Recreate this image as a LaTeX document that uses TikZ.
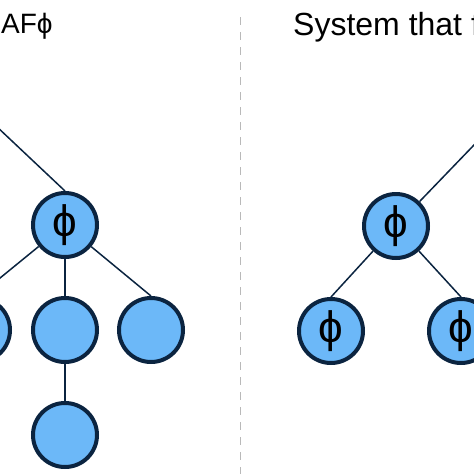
\documentclass[tikz,border=0pt]{standalone}
\usepackage{fontspec}
\setmainfont{Liberation Sans}
\usetikzlibrary{positioning}
\definecolor{nodefill}{HTML}{6CB8F8}
\definecolor{nodeline}{HTML}{0B2440}
\tikzstyle{TreeNode} = [draw=nodeline, fill=nodefill, circle, line width=4pt, minimum size=64pt, inner sep=0pt, font=\fontsize{44}{44}\selectfont]
\tikzstyle{Title} = [anchor=base west, inner sep=0pt, font=\fontsize{28}{28}\selectfont]

\begin{document}
\begin{tikzpicture}[x=1pt, y=-1pt, link/.style={draw=nodeline, line width=1.5pt}]

    \useasboundingbox (0,0) rectangle (474,474);
    \clip (0,0) rectangle (474,474);

    \node[Title] (titleL) at (1,33) {AFϕ};
    \node[Title, font=\fontsize{32}{32}\selectfont] (titleR) at (293,35) {System that f};
    \draw[gray!55, line width=1.5pt, dash pattern=on 8pt off 7pt] (240.5,17) -- (240.5,474);

    % left tree
    \coordinate (gpL) at (-40,92);
    \node[TreeNode] (phiL) at (65,225) {ϕ};
    \node[TreeNode] (childL1) at (-22,330) {};
    \node[TreeNode] (childL2) at (65,330) {};
    \node[TreeNode] (childL3) at (151,330) {};
    \node[TreeNode] (childL4) at (65,435) {};
    \draw[link] (gpL) -- (phiL.north);
    \draw[link] (phiL) -- (childL1.north);
    \draw[link] (phiL) -- (childL2);
    \draw[link] (phiL) -- (childL3.north);
    \draw[link] (childL2) -- (childL4);

    % right tree
    \coordinate (gpR) at (500,118);
    \node[TreeNode] (phiR) at (396,226) {ϕ};
    \node[TreeNode] (childR1) at (331,331) {ϕ};
    \node[TreeNode] (childR2) at (461,331) {ϕ};
    \draw[link] (phiR) -- (gpR);
    \draw[link] (phiR) -- (childR1.north);
    \draw[link] (phiR) -- (childR2.north);
  \end{tikzpicture}
\end{document}
